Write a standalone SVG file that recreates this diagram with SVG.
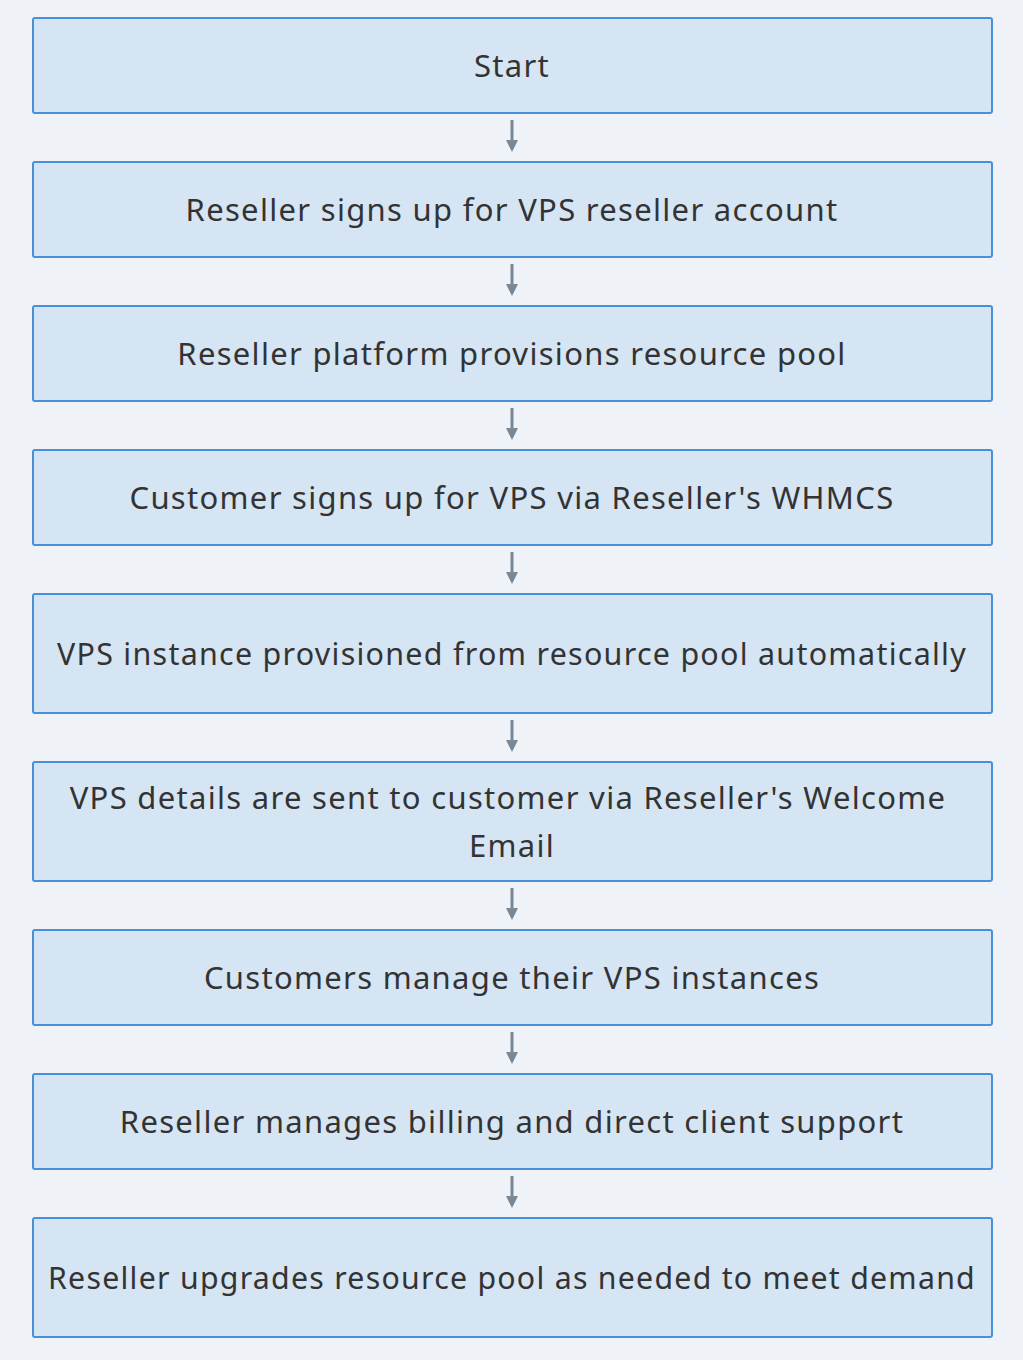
<svg xmlns="http://www.w3.org/2000/svg" width="1023" height="1360" viewBox="0 0 1023 1360">
<style>
.b{fill:#d5e5f4;stroke:#4a90d9;stroke-width:2}
.t{font-family:"Noto Sans","Open Sans",sans-serif;font-size:31px;letter-spacing:1.3px;fill:#333;text-anchor:middle}
.c line{stroke:#778899;stroke-width:3}
</style>
<defs><marker id="a" markerWidth="5" markerHeight="4" refX="2" refY="2" orient="auto" markerUnits="strokeWidth"><path d="M0,0L4,2L0,4z" fill="#778899"/></marker></defs>
<rect width="1023" height="1360" fill="#eff3f7"/>
<g id="n1"><rect class="b" x="33" y="18" width="959" height="95" rx="2"/><text class="t" x="512" y="77">Start</text></g>
<g id="n2"><rect class="b" x="33" y="162" width="959" height="95" rx="2"/><text class="t" x="512" y="221">Reseller signs up for VPS reseller account</text></g>
<g id="n3"><rect class="b" x="33" y="306" width="959" height="95" rx="2"/><text class="t" x="512" y="365">Reseller platform provisions resource pool</text></g>
<g id="n4"><rect class="b" x="33" y="450" width="959" height="95" rx="2"/><text class="t" x="512" y="509">Customer signs up for VPS via Reseller's WHMCS</text></g>
<g id="n5"><rect class="b" x="33" y="594" width="959" height="119" rx="2"/><text class="t" x="512" y="665" textLength="910" lengthAdjust="spacingAndGlyphs">VPS instance provisioned from resource pool automatically</text></g>
<g id="n6"><rect class="b" x="33" y="762" width="959" height="119" rx="2"/><text class="t" x="508" y="809">VPS details are sent to customer via Reseller's Welcome</text><text class="t" x="512" y="857">Email</text></g>
<g id="n7"><rect class="b" x="33" y="930" width="959" height="95" rx="2"/><text class="t" x="512" y="989">Customers manage their VPS instances</text></g>
<g id="n8"><rect class="b" x="33" y="1074" width="959" height="95" rx="2"/><text class="t" x="512" y="1133">Reseller manages billing and direct client support</text></g>
<g id="n9"><rect class="b" x="33" y="1218" width="959" height="119" rx="2"/><text class="t" x="512" y="1289" textLength="928" lengthAdjust="spacingAndGlyphs">Reseller upgrades resource pool as needed to meet demand</text></g>
<g class="c">
<line x1="512" y1="120" x2="512" y2="146" marker-end="url(#a)"/>
<line x1="512" y1="264" x2="512" y2="290" marker-end="url(#a)"/>
<line x1="512" y1="408" x2="512" y2="434" marker-end="url(#a)"/>
<line x1="512" y1="552" x2="512" y2="578" marker-end="url(#a)"/>
<line x1="512" y1="720" x2="512" y2="746" marker-end="url(#a)"/>
<line x1="512" y1="888" x2="512" y2="914" marker-end="url(#a)"/>
<line x1="512" y1="1032" x2="512" y2="1058" marker-end="url(#a)"/>
<line x1="512" y1="1176" x2="512" y2="1202" marker-end="url(#a)"/>
</g>
</svg>
